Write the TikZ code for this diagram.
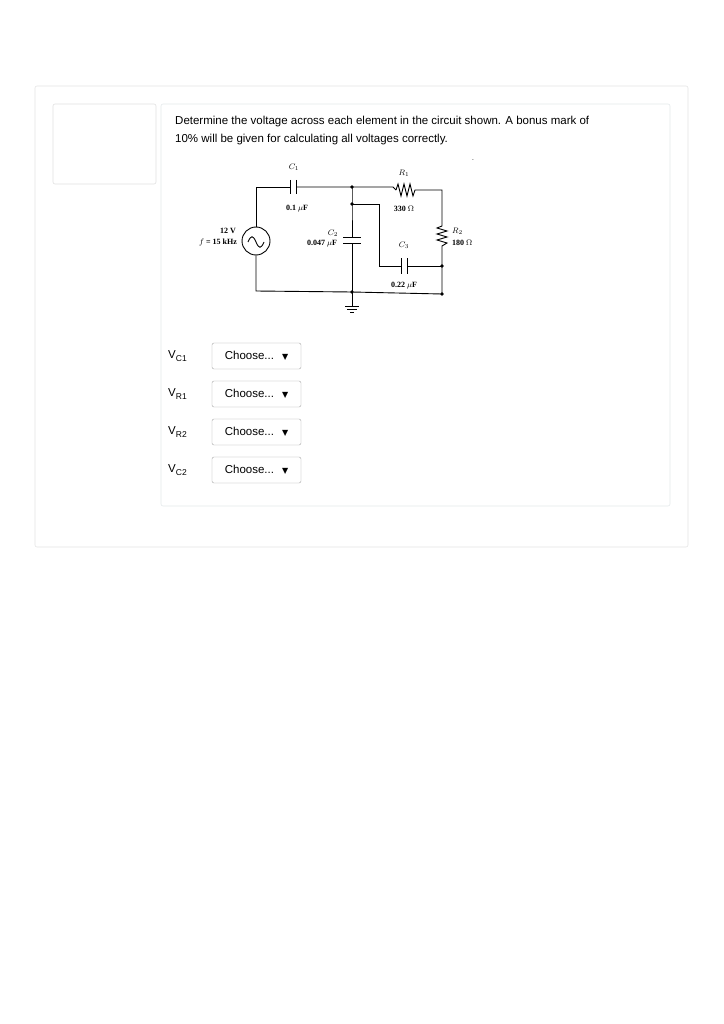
\documentclass[tikz,border=0pt]{standalone}
\usepackage{fontspec}
\setmainfont{Liberation Sans}
\newfontfamily\dv{DejaVu Sans}
\newfontfamily\tms{Liberation Serif}
\begin{document}
\begin{tikzpicture}[x=1pt,y=-1pt,
  card/.style={draw=#1,rounded corners=2pt,line width=0.6pt},
  wire/.style={line width=0.9pt},
  lbl/.style={font=\tms\fontsize{8}{9}\selectfont\bfseries,inner sep=0pt},
  dot/.style={circle,fill,inner sep=1.4pt},
  sel/.style={draw=black!35,rounded corners=2pt,minimum width=89pt,minimum height=26pt,font=\fontsize{11.5}{13}\selectfont,inner sep=0pt}]
\useasboundingbox (0,0) rectangle (723,1024);
\fill[white] (0,0) rectangle (723,1024);
\draw[card=black!10] (35,86) rectangle (688,547);
\draw[card=black!12] (53,104) rectangle (156,184);
\draw[card=cyan!25!black!12] (161,104) rectangle (670,506);
\node[anchor=west,inner sep=0pt,font=\fontsize{11.5}{13}\selectfont] (t1) at (175,122) {Determine the voltage across each element in the circuit shown. A bonus mark of};
\node[anchor=west,inner sep=0pt,font=\fontsize{11.5}{13}\selectfont] (t2) at (175,140) {10\% will be given for calculating all voltages correctly.};
\node[inner sep=0pt] (dash) at (473,161) {\tiny -};
% circuit
\coordinate (tl) at (256,187);
\coordinate (j1) at (352,187);
\coordinate (j2) at (352,204);
\coordinate (tr) at (442,190);
\coordinate (n1) at (442,266);
\coordinate (n2) at (442,294);
\coordinate (bl) at (256,291);
\coordinate (j3) at (352,292);
\coordinate (k) at (379,204);
\coordinate (k2) at (379,266);
% source
\node[draw,circle,wire,minimum size=28pt,inner sep=0pt] (src) at (256,241) {};
\draw[wire] (src.center)++(-8,1) .. controls +(3,-7) and +(-3,-7) .. ++(8,0) .. controls +(3,7) and +(-3,7) .. ++(8,0);
\draw[wire] (src.north) -- (tl) -- (290,187);
\draw[wire] (290,180) -- (290,194) (296,180) -- (296,194);
\draw[wire] (296,187) -- (j1) -- (393,187) -- (396,190);
\draw[wire] (396,190) -- (398,184) -- (401,196) -- (404,184) -- (407,196) -- (410,184) -- (413,196) -- (415,190) -- (tr) -- (442,226)
  -- (437,228) -- (447,231) -- (437,234) -- (447,237) -- (437,240) -- (447,243) -- (442,246) -- (n1) -- (n2);
\draw[wire] (j1) -- (j2) -- (352,237);
\draw[wire] (343,237) -- (361,237) (343,243) -- (361,243);
\draw[wire] (352,243) -- (j3);
\draw[wire] (j2) -- (k) -- (k2) -- (401,266);
\draw[wire] (401,258) -- (401,274) (407,258) -- (407,274);
\draw[wire] (407,266) -- (n1);
\draw[wire] (src.south) -- (bl) -- (j3) -- (n2);
\draw[wire] (j3) -- (352,306);
\draw[wire] (345,306) -- (359,306) (347,309) -- (357,309) (350,312) -- (354,312);
\node[dot] at (j1) {}; \node[dot] at (j2) {}; \node[dot] at (j3) {};
\node[dot] at (n1) {}; \node[dot] at (n2) {};
\node[lbl] (lc1) at (294,167) {$C_1$};
\node[lbl] (vc1) at (297,209) {0.1 $\mu$F};
\node[lbl] (lr1) at (404,173) {$R_1$};
\node[lbl] (vr1) at (404,209) {330 $\Omega$};
\node[lbl,anchor=east] (vs) at (236,231) {12 V};
\node[lbl,anchor=east] (fs) at (237,242) {$f$ = 15 kHz};
\node[lbl] (lc2) at (333,233) {$C_2$};
\node[lbl] (vc2) at (322,244) {0.047 $\mu$F};
\node[lbl] (lc3) at (404,245) {$C_3$};
\node[lbl] (vc3) at (404,286) {0.22 $\mu$F};
\node[lbl,anchor=west] (lr2) at (452,231) {$R_2$};
\node[lbl,anchor=west] (vr2) at (452,243) {180 $\Omega$};
% dropdowns
\foreach \y/\s [count=\i] in {356/C1,394/R1,432/R2,470/C2}{
  \node[anchor=west,inner sep=0pt,font=\fontsize{11.5}{13}\selectfont] (v\i) at (168,\y) {V\raisebox{-0.6ex}{\fontsize{8.5}{9}\selectfont \s}};
  \node[sel] (s\i) at (256.5,\y) {Choose...\hspace{8pt}{\dv\fontsize{8}{9}\selectfont ▼}};
}
\end{tikzpicture}
\end{document}
